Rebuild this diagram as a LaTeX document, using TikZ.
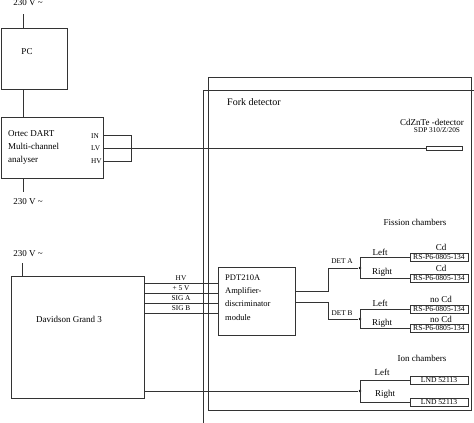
\documentclass[tikz,border=0pt]{standalone}
\usepackage{fontspec}
\setmainfont{Liberation Serif}
\begin{document}
\begin{tikzpicture}[x=1pt,y=-1pt]
	\tikzset{
		wire/.style={draw=black!80, line width=0.7pt},
		unit/.style={rectangle, draw=black!80, line width=0.8pt, inner sep=0pt},
		txt/.style={font=\fontsize{9}{10}\selectfont, inner sep=0pt},
		tiny/.style={font=\fontsize{7.3}{8}\selectfont, inner sep=0pt},
		probe/.style={rectangle, draw=black!80, line width=0.6pt, minimum width=58pt, minimum height=8pt, inner sep=0pt, font=\fontsize{7.6}{8}\selectfont},
		dot/.style={circle, fill=black, inner sep=1pt}
	}
	\useasboundingbox (0,0) rectangle (474,423);
	% mains and PC / analyser
	\node[txt] (mainsA) at (28,3) {230 V \textasciitilde};
	\node[unit, minimum width=66pt, minimum height=61pt] (pc) at (34,58.5) {};
	\node[txt] (pclbl) at (27,52) {PC};
	\node[unit, minimum width=102pt, minimum height=61pt] (ortec) at (52,147.5) {};
	\node[txt, anchor=west, align=left, font=\fontsize{9}{13}\selectfont] (orteclbl) at (8,147.5) {Ortec DART\\Multi-channel\\analyser};
	\node[tiny, anchor=west] (inlbl) at (91,136) {IN};
	\node[tiny, anchor=west] (lvlbl) at (91,148) {LV};
	\node[tiny, anchor=west] (hvlbl) at (91,161) {HV};
	\node[txt] (mainsB) at (28,202) {230 V \textasciitilde};
	\draw[wire] ([xshift=23pt]pc.north west) -- ++(0,-14);
	\draw[wire] ([xshift=23pt]pc.south west) -- ([xshift=23pt]ortec.north west);
	\draw[wire] ([xshift=23pt]ortec.south west) -- ++(0,14);
	% fork detector housing
	\node[unit, minimum width=263pt, minimum height=333pt] (fork) at (339.5,243.5) {};
	\draw[wire] (474,90) -- (203,90) -- (203,423);
	\node[txt, font=\fontsize{10}{11}\selectfont] (forklbl) at (254,102) {Fork detector};
	\node[txt] (cdzlbl) at (432,122) {CdZnTe -detector};
	\node[tiny] (sdplbl) at (437,130.5) {SDP 310/Z/20S};
	\node[unit, line width=0.6pt, minimum width=36pt, minimum height=4pt] (cdz) at (444,148) {};
	\draw[wire] (ortec.east |- 0,135) -- (131,135) -- (131,161) -- (ortec.east |- 0,161);
	\draw[wire] (ortec.east |- 0,148) -- (cdz.west);
	% Davidson and PDT210A
	\node[txt] (mainsC) at (28,254) {230 V \textasciitilde};
	\node[unit, minimum width=133pt, minimum height=122pt] (davidson) at (77.5,337) {};
	\node[txt] (davlbl) at (69,319) {Davidson Grand 3};
	\draw[wire] ([xshift=12pt]davidson.north west) -- ++(0,-13);
	\node[unit, minimum width=77pt, minimum height=68pt] (pdt) at (256.5,301) {};
	\node[txt, anchor=north west, align=left, font=\fontsize{8.5}{13.3}\selectfont] (pdtlbl) at (225,274.5) {PDT210A\\Amplifier-\\discriminator\\module};
	\foreach \lab/\yy in {HV/283, {+ 5 V}/293, SIG A/303, SIG B/313}
		\draw[wire] (davidson.east |- 0,\yy) -- node[tiny, above=2.5pt] {\lab} (pdt.west |- 0,\yy);
	% fission chambers
	\node[txt] (fislbl) at (415,222) {Fission chambers};
	\node[probe] (chAl) at (439,257) {RS-P6-0805-134};
	\node[probe] (chAr) at (439,278) {RS-P6-0805-134};
	\node[probe] (chBl) at (439,309) {RS-P6-0805-134};
	\node[probe] (chBr) at (439,328) {RS-P6-0805-134};
	\node[txt] (cdA) at (441,247) {Cd};
	\node[txt] (cdB) at (441,268) {Cd};
	\node[txt] (nocdA) at (441,299) {no Cd};
	\node[txt] (nocdB) at (441,319) {no Cd};
	\node[txt] (leftA) at (380,252) {Left};
	\node[txt] (rightA) at (382,272) {Right};
	\node[txt] (leftB) at (380,303) {Left};
	\node[txt] (rightB) at (382,323) {Right};
	\node[dot] (jA) at (360,268) {};
	\node[dot] (jB) at (360,319) {};
	\draw[wire] (chAl.west) -- (chAl.west -| jA) |- (chAr.west);
	\draw[wire] (chBl.west) -- (chBl.west -| jB) |- (chBr.west);
	\draw[wire] (pdt.east |- 0,291) -- (328,291) |- (jA);
	\draw[wire] (pdt.east |- 0,302) -- (328,302) |- (jB);
	\node[tiny] (detA) at (342,261) {DET A};
	\node[tiny] (detB) at (342,313) {DET B};
	% ion chambers
	\node[txt] (ionlbl) at (422,358) {Ion chambers};
	\node[probe] (ionl) at (439,380) {LND 52113};
	\node[probe] (ionr) at (439,402) {LND 52113};
	\node[txt] (leftI) at (382,372) {Left};
	\node[txt] (rightI) at (385,394) {Right};
	\node[dot] (jI) at (360,391) {};
	\draw[wire] (ionl.west) -- (ionl.west -| jI) |- (ionr.west);
	\draw[wire] (davidson.east |- 0,391) -- (jI);
\end{tikzpicture}
\end{document}
